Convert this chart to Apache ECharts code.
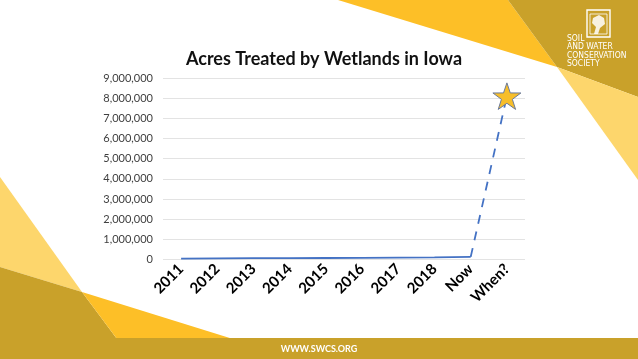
<!DOCTYPE html>
<html><head><meta charset="utf-8">
<script src="https://cdn.jsdelivr.net/npm/echarts@6/dist/echarts.min.js"></script>
<style>html,body{margin:0;padding:0;background:#fff}#c{width:638px;height:359px}</style>
</head><body><div id="c"></div>
<script>
const categories = ['2011','2012','2013','2014','2015','2016','2017','2018','Now','When?'];
const actualValues = [40000, 55000, 65000, 70000, 75000, 85000, 95000, 105000, 130000, null];
const goalValues = [null, null, null, null, null, null, null, null, 130000, 8100000];
const yTicks = { min: 0, max: 9000000, interval: 1000000 };

const BRIGHT = '#FDBF27', DARK = '#C9A12A', LIGHT = '#FDD66C';
const chart = echarts.init(document.getElementById('c'), null, {renderer:'canvas'});
const poly = (pts, color, z) => ({type:'polygon', shape:{points:pts}, style:{fill:color}, z: z||0, silent:true});
const logoLines = ['SOIL','AND WATER','CONSERVATION','SOCIETY'];
chart.setOption({
  backgroundColor:'#fff',
  animation:false,
  title:{text:'Acres Treated by Wetlands in Iowa', left:319, textAlign:'center', top:45,
    textStyle:{fontFamily:'Lato', fontWeight:'bold', fontSize:18, color:'#111'}},
  grid:{left:163, right:113, top:78, bottom:99.5},
  xAxis:{type:'category', data:categories, boundaryGap:true,
    axisLine:{show:false}, axisTick:{show:false},
    axisLabel:{rotate:45, margin:7, fontFamily:'Lato', fontWeight:'bold', fontSize:15, color:'#000', interval:0}},
  yAxis:{type:'value', min:yTicks.min, max:yTicks.max, interval:yTicks.interval,
    axisLine:{show:false}, axisTick:{show:false},
    splitLine:{lineStyle:{color:'#E3E3E3', width:1}},
    axisLabel:{margin:10, fontFamily:'Lato', fontSize:11, color:'#404040',
      formatter:v=>v.toLocaleString('en-US')}},
  series:[
    {type:'line', data:actualValues, symbol:'none', lineStyle:{color:'#4472C4', width:1.8}, z:3},
    {type:'line', data:goalValues, lineStyle:{color:'#4472C4', width:1.8, type:[9,8]},
      symbol:(v,p)=>p.dataIndex===9?'path://M50,0 L61.8,35.1 L98.9,35.3 L69.1,57.4 L80.3,92.7 L50,71.2 L19.7,92.7 L30.9,57.4 L1.1,35.3 L38.2,35.1 Z':'none',
      symbolSize:28, symbolKeepAspect:true,
      itemStyle:{color:'#F7BE2A', borderColor:'#6B7A99', borderWidth:1}, z:3}
  ],
  graphic:[
    poly([[338,0],[508,0],[557,67]], BRIGHT),
    poly([[508,0],[638,0],[638,97],[557,67]], DARK),
    poly([[557,67],[638,97],[638,180]], LIGHT),
    poly([[0,177],[82,292],[0,267]], LIGHT),
    poly([[0,267],[82,292],[117,339],[0,339]], DARK),
    poly([[82,292],[233,339],[117,339]], BRIGHT),
    {type:'rect', shape:{x:0,y:338,width:638,height:21}, style:{fill:DARK}, silent:true},
    {type:'text', x:319, y:349, style:{text:'WWW.SWCS.ORG', fill:'#fff', font:'bold 9px Lato', textAlign:'center', textVerticalAlign:'middle'}},
    {type:'rect', shape:{x:587,y:10,width:23,height:27}, style:{fill:'none', stroke:'#fff', lineWidth:1.4}, z:5},
    {type:'polyline', shape:{points:[[590,14],[607,14],[607,34],[590,34],[590,14]]}, style:{stroke:'#fff', fill:'none', lineWidth:0.8}, z:5},
    {type:'polygon', shape:{points:[[593,18],[599,15],[604,18],[605,24],[600,28],[598,34],[594,34],[596,27],[592,23]]}, style:{fill:'#fff', opacity:0.85}, z:5},
    ...logoLines.map((t,i)=>({type:'text', x:567, y:39+i*8.2, z:5,
      style:{text:t, fill:'#fff', font:'8.5px "DejaVu Sans Condensed", "DejaVu Sans"', textVerticalAlign:'middle'}}))
  ]
});
</script></body></html>
